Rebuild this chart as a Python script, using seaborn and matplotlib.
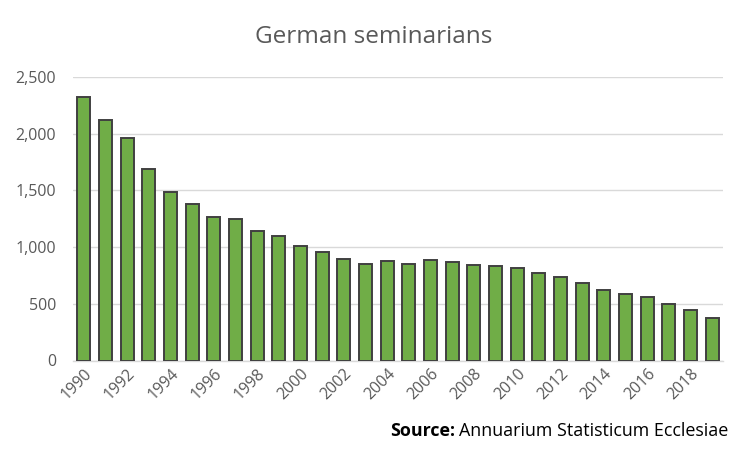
import matplotlib
matplotlib.use("Agg")
import matplotlib.pyplot as plt
import matplotlib.ticker as mticker
import seaborn as sns
import pandas as pd

years = [str(y) for y in range(1990, 2020)]
seminarians = [2320, 2118, 1959, 1685, 1488, 1376, 1262, 1244, 1138, 1094,
               1006, 953, 891, 847, 875, 853, 885, 867, 841, 832,
               814, 770, 740, 681, 619, 584, 558, 496, 445, 372]
y_ticks = [0, 500, 1000, 1500, 2000, 2500]
title = "German seminarians"

df = pd.DataFrame({"year": years, "seminarians": seminarians})

sns.set_theme(style="white")
plt.rcParams['font.family'] = ['Open Sans', 'DejaVu Sans']

fig = plt.figure(figsize=(7.5, 4.51), dpi=100)
ax = fig.add_axes([73/750, 1 - 360.5/451, 650/750, 283.5/451])

sns.barplot(data=df, x="year", y="seminarians", color="#70AD47",
            edgecolor="#404040", linewidth=1.4, width=0.6, saturation=1, ax=ax, zorder=3)

ax.set_ylim(0, 2500)
ax.set_xlim(-0.5, len(years) - 0.5)
ax.set_yticks(y_ticks)
ax.yaxis.set_major_formatter(mticker.FuncFormatter(lambda v, p: f"{int(v):,}"))
ax.grid(axis="y", color="#D9D9D9", linewidth=1.0, zorder=0)
ax.grid(axis="x", visible=False)
for s in ["top", "right", "left"]:
    ax.spines[s].set_visible(False)
ax.spines["bottom"].set_color("#D9D9D9")
ax.spines["bottom"].set_linewidth(1.0)
ax.set_xlabel("")
ax.set_ylabel("")
ax.tick_params(axis="both", length=0, colors="#595959", labelsize=11.5)
ax.tick_params(axis="y", pad=12)
ax.tick_params(axis="x", pad=4)
ax.set_xticks(range(0, len(years), 2))
ax.set_xticklabels(years[::2], rotation=45, ha="right", rotation_mode="anchor")

fig.text(374/750, 1 - 37/451, title, ha="center", va="center", fontsize=17.5, color="#595959")

renderer = fig.canvas.get_renderer()
t2 = fig.text(728/750, 1 - 431/451, "Annuarium Statisticum Ecclesiae",
              ha="right", va="center", fontsize=12.9, color="black")
bb = t2.get_window_extent(renderer=renderer)
fig.text(bb.x0 / 750 - 4/750, 1 - 431/451, "Source:", ha="right", va="center",
         fontsize=12.9, fontweight="bold", color="black")

fig.savefig("out.png", dpi=100)
